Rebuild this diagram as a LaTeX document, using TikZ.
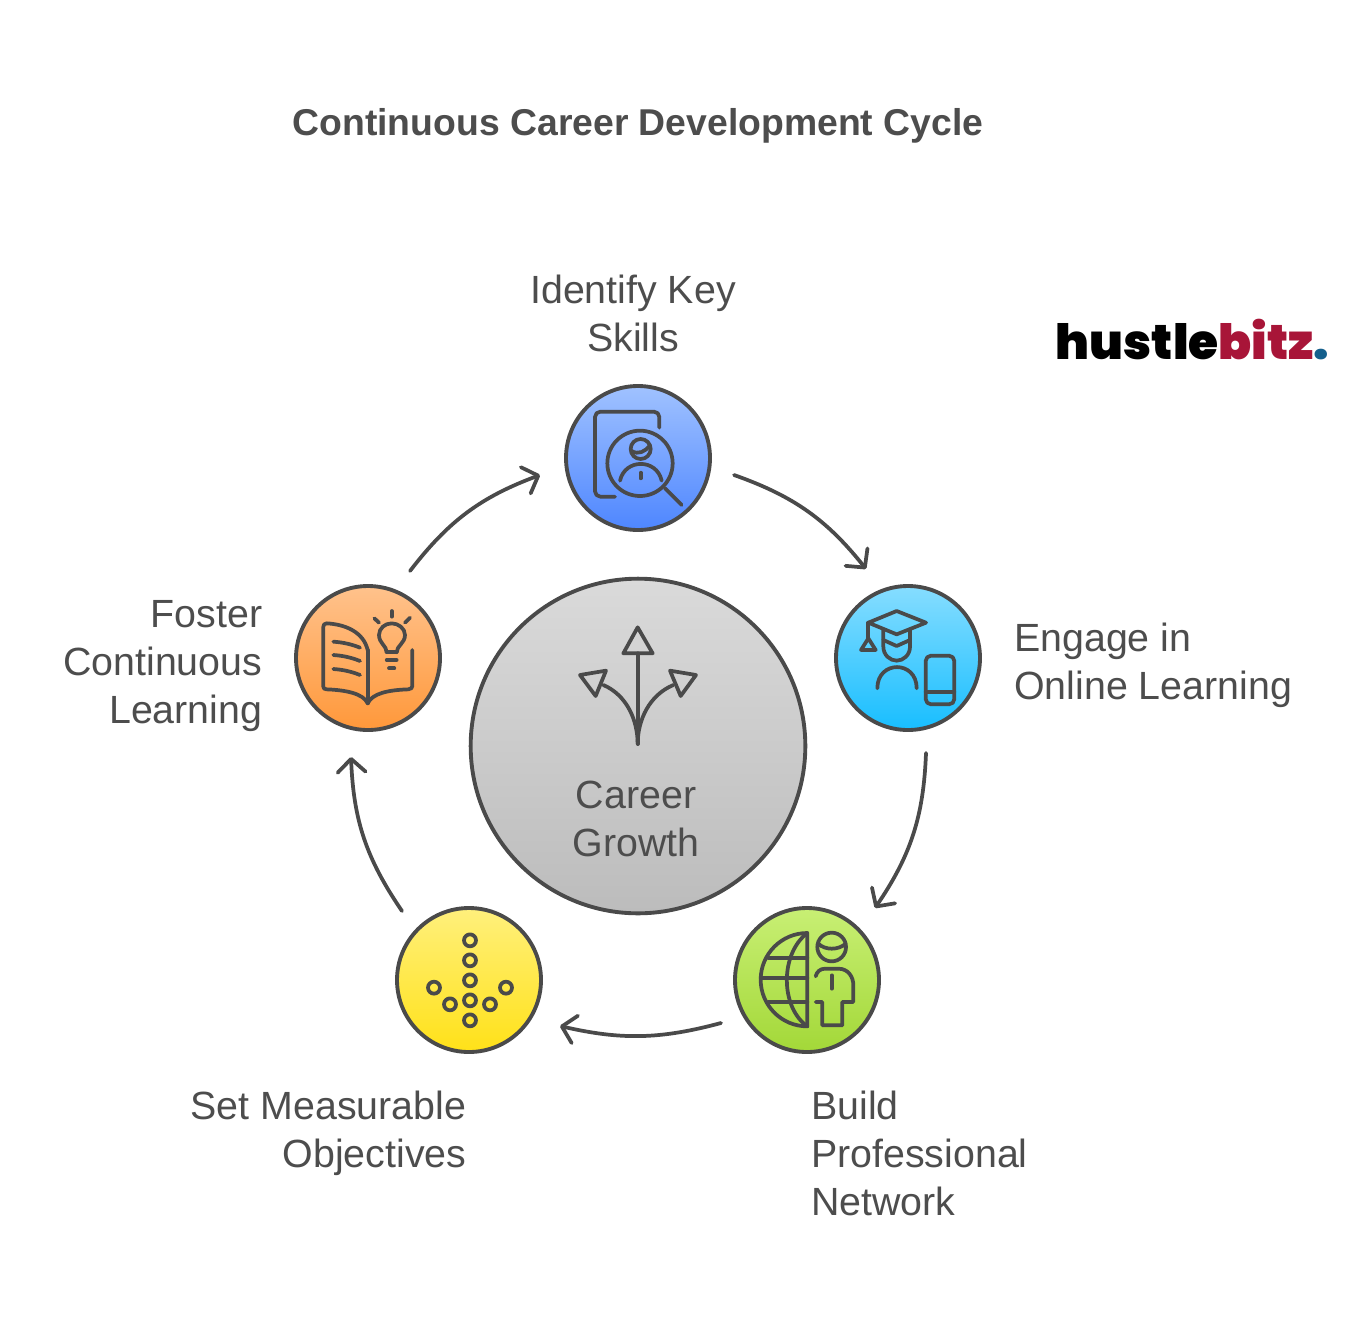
\documentclass[tikz,border=0pt]{standalone}
\usepackage{fontspec}
\setmainfont{Liberation Sans}
\newfontfamily\logofont{Poppins}[UprightFont=* Black]
\usetikzlibrary{arrows.meta}
\definecolor{ink}{HTML}{4A4A4A}
\definecolor{txt}{HTML}{4D4D4D}
\definecolor{hubT}{HTML}{DADADA}\definecolor{hubB}{HTML}{BCBCBC}
\definecolor{oneT}{HTML}{A0C2FF}\definecolor{oneB}{HTML}{4E86FF}
\definecolor{twoT}{HTML}{86DDFF}\definecolor{twoB}{HTML}{18BEFF}
\definecolor{treT}{HTML}{C8EF74}\definecolor{treB}{HTML}{A3D838}
\definecolor{forT}{HTML}{FFF07C}\definecolor{forB}{HTML}{FFE118}
\definecolor{fivT}{HTML}{FFC28C}\definecolor{fivB}{HTML}{FF983A}
\definecolor{logoR}{HTML}{A81538}\definecolor{logoB}{HTML}{145F8C}
\tikzset{
  icon/.style 2 args={shift={(#1,#2)},x=.25pt,y=-.25pt,line width=2.8pt,draw=ink,line cap=round,line join=round},
  disc/.style 2 args={circle,draw=ink,line width=2.9pt,minimum size=108pt,inner sep=0pt,top color=#1,bottom color=#2},
  lab/.style={text=txt,font=\fontsize{29.5}{36}\selectfont,inner sep=0pt},
  cyc/.style={draw=ink,line width=2.8pt,line cap=round,-{Straight Barb[round,length=10pt,width=21pt]}},
}
\begin{document}
\begin{tikzpicture}[x=.75pt,y=-.75pt]
\useasboundingbox (0,0) rectangle (1348,1324);
\fill[white] (0,0) rectangle (1348,1324);
\node[text=txt,font=\fontsize{28}{34}\selectfont\bfseries,anchor=base,inner sep=0pt] (title) at (638,135) {Continuous Career Development Cycle};
\node[disc={hubT}{hubB},minimum size=251pt] (hub) at (638,746) {};
\node[disc={oneT}{oneB}] (n1) at (638,458) {};
\node[disc={twoT}{twoB}] (n2) at (908,658) {};
\node[disc={treT}{treB}] (n3) at (807,980) {};
\node[disc={forT}{forB}] (n4) at (469,980) {};
\node[disc={fivT}{fivB}] (n5) at (368,658) {};
\coordinate (a1s) at (734,475); \coordinate (a1e) at (866,569);
\coordinate (a2s) at (926,753); \coordinate (a2e) at (875,908);
\coordinate (a3s) at (721,1023); \coordinate (a3e) at (560,1026);
\coordinate (a4s) at (402,911); \coordinate (a4e) at (351,757);
\coordinate (a5s) at (410,571); \coordinate (a5e) at (540,475);
\draw[cyc] (a1s) to[bend left=16] (a1e);
\draw[cyc] (a2s) to[bend left=16] (a2e);
\draw[cyc] (a3s) to[bend left=14] (a3e);
\draw[cyc] (a4s) to[bend left=16] (a4e);
\draw[cyc] (a5s) to[bend left=16] (a5e);
% labels
\node[lab,align=center,anchor=north] (l1) at (633,275) {Identify Key\\Skills};
\node[lab,align=left,anchor=north west] (l2) at (1014,623) {Engage in\\Online Learning};
\node[lab,align=left,anchor=north west] (l3) at (811,1091) {Build\\Professional\\Network};
\node[lab,align=right,anchor=north east] (l4) at (466.5,1091) {Set Measurable\\Objectives};
\node[lab,align=right,anchor=north east] (l5) at (262.5,600.5) {Foster\\Continuous\\Learning};
\node[lab,align=center,anchor=north] (l0) at (636,781) {Career\\Growth};
\node[anchor=base west,inner sep=0pt,font=\logofont\fontsize{36.5}{40}\selectfont] (logo) at (1055.5,359) {\textcolor{black}{hustle}\textcolor{logoR}{bitz}\textcolor{logoB}{.}};
% icon 1
\begin{scope}[icon={555}{375}]
\draw[rounded corners=4pt] (180,365) -- (120,365) -- (120,110) -- (313,110) -- (313,158);
\draw (255,265) circle (98);
\draw (330,340) -- (380,390);
\draw (257,222) circle (30);
\draw (230,228) .. controls (250,240) and (270,230) .. (284,212);
\draw (195,317) .. controls (210,250) and (305,250) .. (320,317);
\draw (257,293) -- (257,310);
\end{scope}
% icon 2
\begin{scope}[icon={825}{575}]
\draw (130,143) -- (215,108) -- (303,143) -- (215,178) -- cycle;
\draw (130,143) -- (130,190);
\draw (130,190) -- (152,225) -- (108,225) -- cycle;
\draw (175,165) -- (175,215) .. controls (175,240) and (195,257) .. (215,257) .. controls (235,257) and (255,240) .. (255,215) -- (255,165);
\draw (175,195) -- (215,213) -- (255,195);
\draw (157,340) .. controls (157,255) and (275,255) .. (275,340);
\draw[rounded corners=4pt] (302,242) rectangle (388,388);
\draw (302,350) -- (388,350);
\end{scope}
% icon 3
\begin{scope}[icon={725}{897}]
\draw (247,108) arc[start angle=-90,end angle=-270,radius=140] -- cycle;
\draw (247,108) .. controls (165,170) and (165,330) .. (247,388);
\draw (130,182) -- (247,182);
\draw (107,243) -- (247,243);
\draw (130,315) -- (247,315);
\draw (320,150) circle (43);
\draw (280,140) .. controls (300,160) and (340,160) .. (362,140);
\draw (272,238) .. controls (275,225) and (285,215) .. (300,215) -- (340,215) .. controls (370,215) and (385,240) .. (385,265) -- (385,315) -- (352,315) -- (352,385) -- (292,385) -- (292,315) -- (272,315);
\draw (320,235) -- (320,275);
\end{scope}
% icon 4
\begin{scope}[icon={385}{897}]
\foreach \cx/\cy in {255/130,255/190,255/250,255/310,255/370,147/272,195/322,315/322,363/272}
  \draw (\cx,\cy) circle (18);
\end{scope}
% icon 5
\begin{scope}[icon={285}{575}]
\draw (248,225) .. controls (235,170) and (180,148) .. (125,145) .. controls (118,145) and (115,150) .. (115,155) -- (115,335) .. controls (115,340) and (118,343) .. (125,343) .. controls (180,345) and (235,355) .. (248,385) .. controls (262,355) and (310,345) .. (370,343) .. controls (378,343) and (382,338) .. (382,333) -- (382,225);
\draw (248,225) -- (248,385);
\draw (145,200) .. controls (175,202) and (200,208) .. (225,218);
\draw (145,240) .. controls (175,242) and (200,248) .. (225,258);
\draw (145,282) .. controls (175,284) and (200,290) .. (225,300);
\draw (305,232) -- (335,232);
\draw (305,232) .. controls (305,212) and (282,205) .. (282,180) .. controls (282,160) and (300,145) .. (320,145) .. controls (340,145) and (360,160) .. (360,180) .. controls (360,205) and (335,212) .. (335,232);
\draw (305,255) -- (335,255);
\draw (312,280) -- (328,280);
\draw (320,108) -- (320,125);
\draw (268,130) -- (282,143);
\draw (375,128) -- (360,143);
\end{scope}
% hub icon
\begin{scope}[icon={560}{610}]
\draw (233,52) -- (278,130) -- (190,130) -- cycle;
\draw (233,130) -- (233,402);
\draw (60,195) -- (138,182) -- (107,258) -- cycle;
\draw (408,195) -- (330,182) -- (362,258) -- cycle;
\draw (233,402) .. controls (233,330) and (200,255) .. (130,225);
\draw (233,402) .. controls (233,330) and (268,255) .. (340,225);
\end{scope}
\end{tikzpicture}
\end{document}
